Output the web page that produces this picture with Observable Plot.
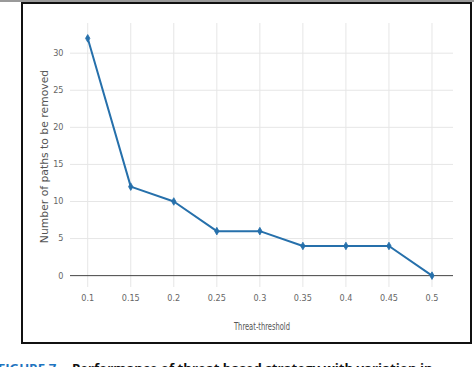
<!DOCTYPE html>
<html>
<head>
<meta charset="utf-8">
<script src="https://cdn.jsdelivr.net/npm/d3@7"></script>
<script src="https://cdn.jsdelivr.net/npm/@observablehq/plot@0.6"></script>
<style>
  html, body { margin: 0; padding: 0; background: #fff; overflow: hidden; }
  #page { position: relative; width: 474px; height: 367px; overflow: hidden; }
  #band { position: absolute; left: 0; top: 0; width: 474px; height: 2px; background: #9a9a9a; }
  #frame { position: absolute; left: 21px; top: 2px; width: 447px; height: 338px; border: 2px solid #111; box-sizing: content-box; }
  #chart { position: absolute; left: 0; top: 0; }
  #caption { position: absolute; left: -2px; top: 359px; white-space: nowrap; font-family: "Open Sans", sans-serif; font-weight: 700; font-size: 13.2px; color: #111; }
  #caption .fig { color: #1e74c0; margin-right: 12px; }
</style>
</head>
<body>
<div id="page">
  <div id="band"></div>
  <div id="frame"></div>
  <div id="chart"></div>
  <div id="caption"><span class="fig">FIGURE 7.</span>Performance of threat based strategy with variation in</div>
</div>
<script>
const thresholds = [0.1, 0.15, 0.2, 0.25, 0.3, 0.35, 0.4, 0.45, 0.5];
const pathsRemoved = [32, 12, 10, 6, 6, 4, 4, 4, 0];
const yTicks = [0, 5, 10, 15, 20, 25, 30];
const xTickLabels = ["0.1", "0.15", "0.2", "0.25", "0.3", "0.35", "0.4", "0.45", "0.5"];
const xTitle = "Threat-threshold";
const yTitle = "Number of paths to be removed";

const data = thresholds.map((t, i) => ({t, v: pathsRemoved[i]}));
const lineColor = "#2670ab";

const chart = Plot.plot({
  width: 474,
  height: 343,
  marginLeft: 70,
  marginRight: 21,
  marginTop: 23,
  marginBottom: 56,
  style: {background: "transparent", fontFamily: "'DejaVu Sans Condensed', 'DejaVu Sans', sans-serif", fontSize: "9px", color: "#555"},
  x: {domain: [0.08, 0.525], ticks: thresholds, tickFormat: (d, i) => xTickLabels[i], label: null},
  y: {domain: [-1.6, 34], ticks: yTicks, label: null},
  marks: [
    Plot.gridX(thresholds, {stroke: "#e6e6e6", strokeOpacity: 1, strokeWidth: 1}),
    Plot.gridY(yTicks.filter(d => d !== 0), {stroke: "#e6e6e6", strokeOpacity: 1, strokeWidth: 1}),
    Plot.ruleY([0], {stroke: "#444", strokeWidth: 1}),
    Plot.axisX(thresholds, {tickSize: 0, tickPadding: 7, tickFormat: (d, i) => xTickLabels[i], fill: "#666", label: null}),
    Plot.axisY(yTicks, {tickSize: 0, tickPadding: 7, fill: "#666", label: null}),
    Plot.line(data, {x: "t", y: "v", stroke: lineColor, strokeWidth: 2}),
    Plot.dot(data, {x: "t", y: "v", symbol: "diamond", r: 2.3, fill: lineColor, stroke: lineColor, strokeWidth: 0.8}),
    Plot.text([xTitle], {frameAnchor: "bottom", dy: 42, fontSize: 11, fill: "#555", className: "xtitle"}),
    Plot.text([yTitle], {frameAnchor: "left", dx: -26, dy: 1, rotate: -90, textAnchor: "middle", fontSize: 10.8, fill: "#555", fontFamily: "'DejaVu Sans', sans-serif", className: "ytitle"})
  ]
});
document.getElementById("chart").appendChild(chart);
const xt = chart.querySelector(".xtitle text");
if (xt) { xt.setAttribute("textLength", 56); xt.setAttribute("lengthAdjust", "spacingAndGlyphs"); }
</script>
</body>
</html>
